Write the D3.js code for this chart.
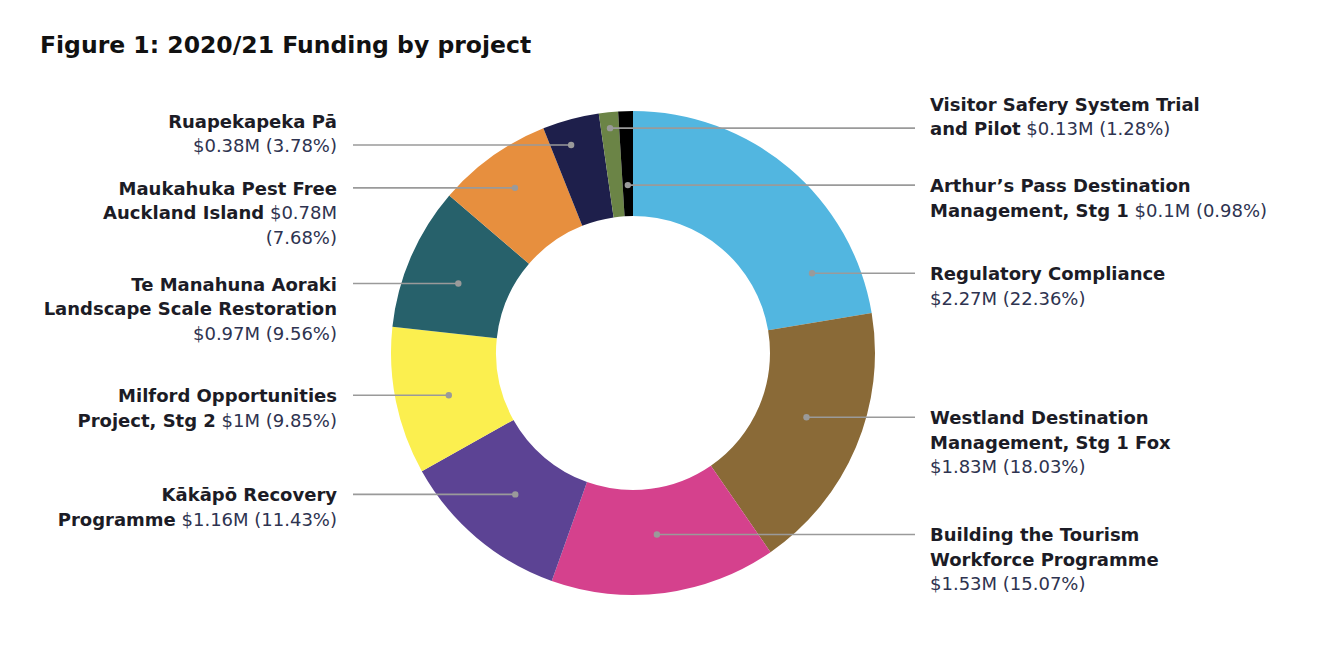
<!DOCTYPE html>
<html>
<head>
<meta charset="utf-8">
<script src="https://cdn.jsdelivr.net/npm/d3@7"></script>
<style>
  body { margin: 0; background: #fff; }
  text { font-family: "DejaVu Sans", "Open Sans", sans-serif; }
  .title { font-size: 23.5px; font-weight: 700; fill: #111; }
  .lbl { font-size: 18px; }
  .name { font-weight: 700; fill: #1c1c26; }
  .val { font-weight: 400; fill: #2e3350; }
  .leader { stroke: #9a9a9a; stroke-width: 1.6; fill: none; }
  .leader-dot { fill: #9a9a9a; }
</style>
</head>
<body>
<div id="chart"></div>
<script>
"use strict";

// data, clockwise from 12 o'clock
const projects = [
  "Regulatory Compliance",
  "Westland Destination Management, Stg 1 Fox",
  "Building the Tourism Workforce Programme",
  "Kākāpō Recovery Programme",
  "Milford Opportunities Project, Stg 2",
  "Te Manahuna Aoraki Landscape Scale Restoration",
  "Maukahuka Pest Free Auckland Island",
  "Ruapekapeka Pā",
  "Visitor Safery System Trial and Pilot",
  "Arthur’s Pass Destination Management, Stg 1"
];
const amounts = [2.27, 1.83, 1.53, 1.16, 1, 0.97, 0.78, 0.38, 0.13, 0.1];
const shares = [22.36, 18.03, 15.07, 11.43, 9.85, 9.56, 7.68, 3.78, 1.28, 0.98];
const colours = ["#52b6e0", "#8a6a37", "#d5418d", "#5c4394", "#fbef4f",
  "#27616b", "#e78f3e", "#1e1f4b", "#6b8446", "#000000"];

// how each label wraps: name lines, where the value goes, which line the leader meets
const nameLines = [
  ["Regulatory Compliance"],
  ["Westland Destination", "Management, Stg 1 Fox"],
  ["Building the Tourism", "Workforce Programme"],
  ["Kākāpō Recovery", "Programme"],
  ["Milford Opportunities", "Project, Stg 2"],
  ["Te Manahuna Aoraki", "Landscape Scale Restoration"],
  ["Maukahuka Pest Free", "Auckland Island"],
  ["Ruapekapeka Pā"],
  ["Visitor Safery System Trial", "and Pilot"],
  ["Arthur’s Pass Destination", "Management, Stg 1"]
];
const valueMode = ["newline", "newline", "newline", "inline", "inline",
  "newline", "split", "newline", "inline", "inline"];
const anchorLine = [0, 0, 0, 0, 0, 0, 0, 1, 1, 0];
const labelSide = ["right", "right", "right", "left", "left",
  "left", "left", "left", "right", "right"];
// leader dot: radius and position within its slice (0..1)
const dotRadius = [196, 185, 183, 184, 189, 188, 203, 217, 226, 168];
const dotFrac = [0.82, 0.46, 0.5, 0.49, 0.46, 0.45, 0.5, 0.38, 0.5, 0.5];

const W = 1330, H = 668;
const cx = 633, cy = 353, rOuter = 242, rInner = 137;
const leftTextX = 337, rightTextX = 930;
const leftLineX = 353, rightLineX = 915;
const lineH = 24.5;

const svg = d3.select("#chart").append("svg")
  .attr("width", W).attr("height", H);

svg.append("text").attr("class", "title")
  .attr("x", 40).attr("y", 53)
  .text("Figure 1: 2020/21 Funding by project");

const pie = d3.pie().sort(null).value(d => d)(shares);
const arc = d3.arc().innerRadius(rInner).outerRadius(rOuter);

const g = svg.append("g").attr("transform", `translate(${cx},${cy})`);

g.selectAll("path.slice")
  .data(pie)
  .join("path")
  .attr("class", "slice")
  .attr("d", arc)
  .attr("fill", (d, i) => colours[i]);

const fmtAmt = v => `$${v}M`;
const fmtPct = v => `(${v.toFixed(2)}%)`;

pie.forEach((d, i) => {
  let a = d.startAngle + (d.endAngle - d.startAngle) * dotFrac[i];
  let px = cx + dotRadius[i] * Math.sin(a);
  let py = cy - dotRadius[i] * Math.cos(a);
  let right = labelSide[i] == "right";

  // leader
  svg.append("line").attr("class", "leader")
    .attr("x1", px).attr("y1", py)
    .attr("x2", right ? rightLineX : leftLineX).attr("y2", py);
  svg.append("circle").attr("class", "leader-dot")
    .attr("cx", px).attr("cy", py).attr("r", 3.2);

  // label lines as [[text, isBold], ...]
  let lines = nameLines[i].map(s => [[s, true]]);
  let amt = fmtAmt(amounts[i]), pct = fmtPct(shares[i]);
  if (valueMode[i] == "newline") {
    lines.push([[amt + " " + pct, false]]);
  } else if (valueMode[i] == "inline") {
    lines[lines.length - 1].push([" " + amt + " " + pct, false]);
  } else {
    lines[lines.length - 1].push([" " + amt, false]);
    lines.push([[pct, false]]);
  }

  let top = py - anchorLine[i] * lineH;
  let t = svg.append("text").attr("class", "lbl")
    .attr("text-anchor", right ? "start" : "end");
  lines.forEach((segs, k) => {
    segs.forEach((s, j) => {
      let ts = t.append("tspan")
        .attr("class", s[1] ? "name" : "val")
        .text(s[0]);
      if (j == 0) {
        ts.attr("x", right ? rightTextX : leftTextX)
          .attr("y", top + k * lineH + 7);
      }
    });
  });
});
</script>
</body>
</html>
